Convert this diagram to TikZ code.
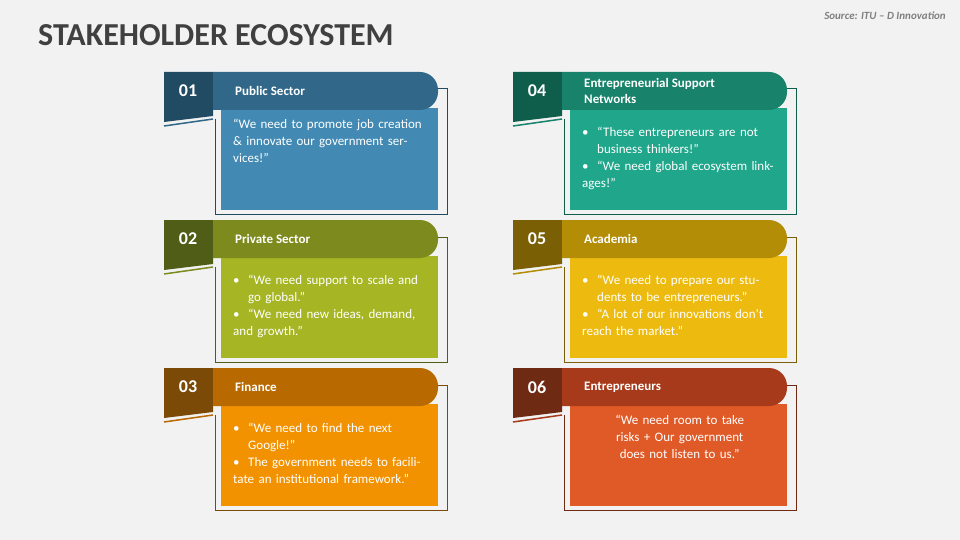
\documentclass[tikz,border=0pt]{standalone}
\usepackage{fontspec}
\setmainfont{Carlito}
\definecolor{bg}{HTML}{F2F2F2}
\definecolor{ta}{HTML}{214A63}\definecolor{ha}{HTML}{31688A}\definecolor{ba}{HTML}{428AB3}
\definecolor{tb}{HTML}{4F5D16}\definecolor{hb}{HTML}{7D8B1E}\definecolor{bb}{HTML}{A5B523}
\definecolor{tc}{HTML}{7A4A06}\definecolor{hc}{HTML}{B86A00}\definecolor{bc}{HTML}{F39200}
\definecolor{td}{HTML}{0F5E4B}\definecolor{hd}{HTML}{18826A}\definecolor{bd}{HTML}{20A68A}
\definecolor{te}{HTML}{7A5F05}\definecolor{he}{HTML}{B38D06}\definecolor{be}{HTML}{EDBA0F}
\definecolor{tf}{HTML}{6E2A12}\definecolor{hf}{HTML}{A63A1B}\definecolor{bf}{HTML}{E05A28}
\tikzset{
  numtxt/.style={text=white,font=\fontsize{18}{20}\selectfont\bfseries,inner sep=0},
  hdtxt/.style={text=white,font=\fontsize{13}{16}\selectfont\bfseries,inner sep=0,anchor=west,align=left},
  bodytxt/.style={text=white,font=\fontsize{13}{17}\selectfont,inner sep=0,anchor=north west,text width=#1},
}
\newcommand{\bl}[1]{\par\hangindent=15pt\hangafter=1\noindent\makebox[15pt][l]{\textbullet}#1}
\newcommand{\card}[8]{%
  \fill[#5] (#1,#2) -- ({#1+49},#2) -- ({#1+49},{#2+44}) -- (#1,{#2+50}) -- cycle;
  \draw[#6,line width=1.5pt] (#1,{#2+54}) -- ({#1+49},{#2+47});
  \draw[#5,line width=1pt] ({#1+51},{#2+47}) -- ({#1+51},{#2+142}) -- ({#1+283},{#2+142}) -- ({#1+283},{#2+17}) -- ({#1+274},{#2+17});
  \fill[#7] ({#1+57},{#2+36}) rectangle ({#1+274},{#2+138});
  \fill[#6] ({#1+49},{#2+38}) -- ({#1+49},#2) [rounded corners=18pt] -- ({#1+274},#2) -- ({#1+274},{#2+38}) [sharp corners] -- cycle;
  \node[numtxt] (n#3) at ({#1+24},{#2+19}) {#3};
  \node[hdtxt] (h#3) at ({#1+71},{#2+19}) {#4};
  \node[bodytxt=195pt] (b#3) at ({#1+69},{#2+47}) {#8};
}
\begin{document}
\begin{tikzpicture}[x=1pt,y=-1pt]
\fill[bg] (0,0) rectangle (960,540);
\useasboundingbox (0,0) rectangle (960,540);
\node[anchor=west,inner sep=0,text=black!75,font=\fontsize{32}{36}\selectfont\bfseries] (title) at (38,35) {STAKEHOLDER ECOSYSTEM};
\node[anchor=east,inner sep=0,text=black!50,font=\fontsize{11}{13}\selectfont\bfseries\itshape] (src) at (946,16) {Source: ITU – D Innovation};
\card{164}{72}{01}{Public Sector}{ta}{ha}{ba}{“We need to promote job creation \& innovate our government services!”}
\card{164}{220}{02}{Private Sector}{tb}{hb}{bb}{\bl{“We need support to scale and go global.”}\bl{“We need new ideas, demand, and growth.”}}
\card{164}{368}{03}{Finance}{tc}{hc}{bc}{\bl{“We need to find the next Google!”}\bl{The government needs to facilitate an institutional framework.”}}
\card{513}{72}{04}{Entrepreneurial Support\\Networks}{td}{hd}{bd}{\bl{“These entrepreneurs are not business thinkers!”}\bl{“We need global ecosystem linkages!”}}
\card{513}{220}{05}{Academia}{te}{he}{be}{\bl{“We need to prepare our students to be entrepreneurs.”}\bl{“A lot of our innovations don’t reach the market.”}}
\card{513}{368}{06}{Entrepreneurs}{tf}{hf}{bf}{\centering “We need room to take\\risks + Our government\\does not listen to us.”\par}
\end{tikzpicture}
\end{document}
